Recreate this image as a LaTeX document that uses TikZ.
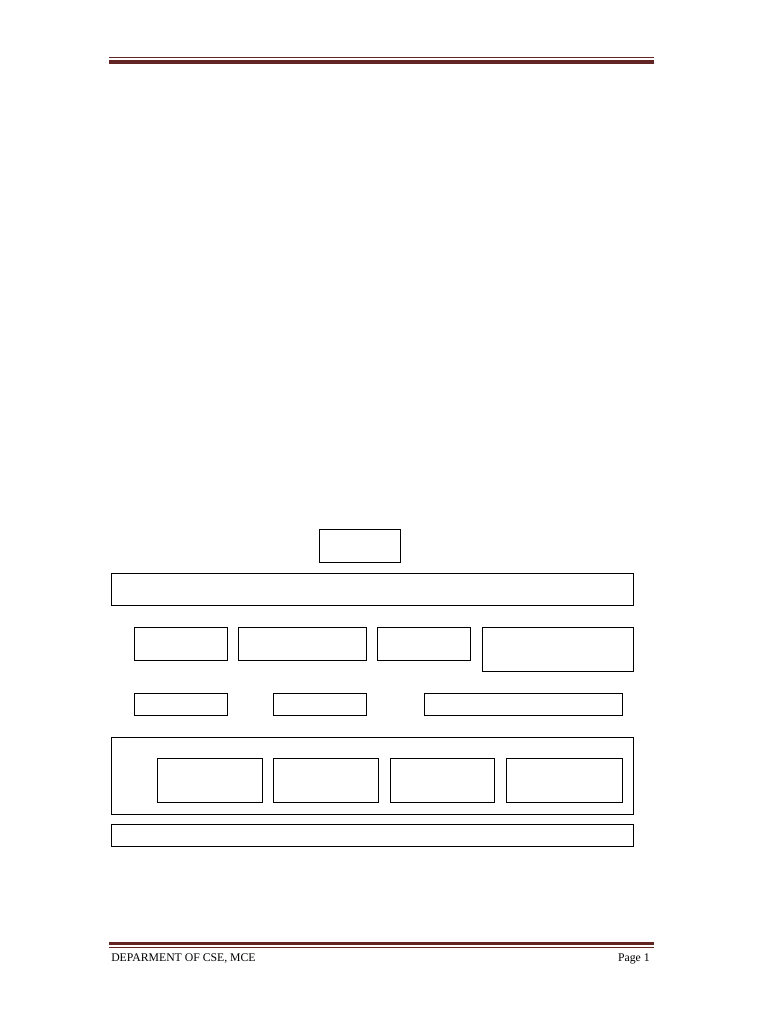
\documentclass[tikz,border=0pt]{standalone}
\usepackage{fontspec}
\setmainfont{Liberation Serif}
\usepackage{tikz}
\definecolor{rule}{RGB}{99,37,35}
\tikzset{
  blk/.style 2 args={draw,rectangle,inner sep=0pt,line width=0.75pt,
    minimum width=#1*0.75pt,minimum height=#2*0.75pt},
  foot/.style={inner sep=0pt,font=\fontsize{8.8}{10}\selectfont}
}

\begin{document}
\begin{tikzpicture}[x=0.75pt,y=-0.75pt]
            \useasboundingbox (0,0) rectangle (768,1024);
            % header rules
            \draw[rule,line width=0.75pt] (109,58) -- (654,58);
            \draw[rule,line width=2.8pt] (109,61.9) -- (654,61.9);
            % blocks
            \node[blk={81}{32.5}] (top) at (359.9,545.8){};
            \node[blk={522}{32.4}] (wide) at (372.3,589.5){};
            \node[blk={93}{33.2}] (ra) at (180.8,644.1){};
            \node[blk={128.4}{33.2}] (rb) at (302.5,644.1){};
            \node[blk={93}{33.2}] (rc) at (424.2,644.1){};
            \node[blk={150.6}{43.4}] (rd) at (558,649.3){};
            \node[blk={93}{22}] (sa) at (180.8,704){};
            \node[blk={93}{22}] (sb) at (320.2,704){};
            \node[blk={198.3}{22}] (sc) at (523.2,704){};
            \node[blk={522}{77}] (outer) at (372.3,775.5){};
            \foreach \i in {0,...,2}
                \node[blk={104.4}{44}] (in\i) at (209.8+116.2*\i,780.7){};
            \node[blk={116}{44}] (in3) at (564,780.7){};
            \node[blk={522}{21.7}] (bar) at (372.3,835.2){};
            % footer
            \draw[rule,line width=2.25pt] (109,943.8) -- (654,943.8);
            \draw[rule,line width=0.75pt] (109,947) -- (654,947);
            \node[foot,anchor=base west] (dept) at (111,961.5){DEPARMENT OF CSE, MCE};
            \node[foot,anchor=base east] (page) at (650,961.5){Page 1};
        \end{tikzpicture}
\end{document}
